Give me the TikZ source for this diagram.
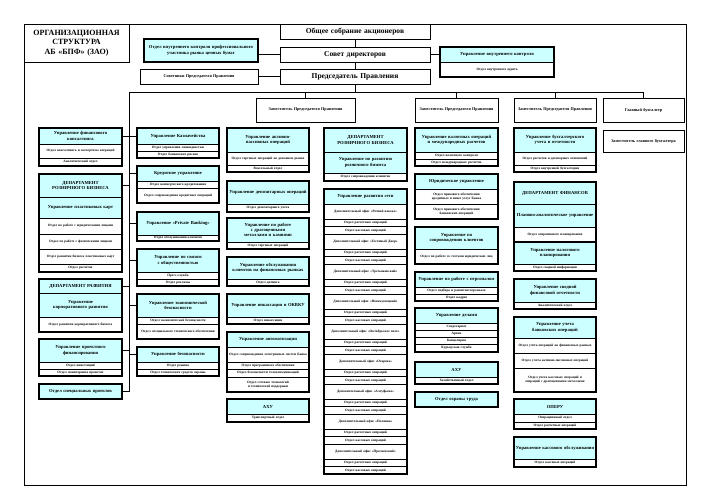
\documentclass[tikz,border=0pt]{standalone}
\usepackage{fontspec}
\setmainfont{Liberation Serif}
\definecolor{hdcyan}{HTML}{CCFFFF}
% columns (left/right edges):
\def\colAl{39}\def\colAr{122}
\def\colBl{137}\def\colBr{219}
\def\colCl{227}\def\colCr{309}
\def\colDl{324}\def\colDr{407}
\def\colEl{415}\def\colEr{498}
\def\colFl{514}\def\colFr{596}
\def\colGl{603}\def\colGr{684}
\newcommand{\orgcell}[7][rowcell]{%
  \pgfmathsetmacro{\orgw}{#5-#3}%
  \pgfmathsetmacro{\orgh}{#6-#4}%
  \pgfmathsetmacro{\orgt}{#5-#3-3}%
  \node[#1, minimum width=\orgw pt, minimum height=\orgh pt, text width=\orgt pt] (#2) at ({(#3+#5)/2},{(#4+#6)/2}) {#7};}
\newcommand{\orgframe}[2]{\draw[unitline] (#1.north west) rectangle (#2.south east);}
\newcommand{\netoffice}[3]{%
  \pgfmathsetmacro{\offa}{#2+15}%
  \pgfmathsetmacro{\offb}{#2+22.5}%
  \pgfmathsetmacro{\offc}{#2+30}%
  \orgcell{#1}{\colDl}{#2}{\colDr}{\offa}{Дополнительный офис #3}
  \orgcell{#1r}{\colDl}{\offa}{\colDr}{\offb}{Отдел расчетных операций}
  \orgcell{#1k}{\colDl}{\offb}{\colDr}{\offc}{Отдел кассовых операций}}
\tikzset{
  cellbase/.style={draw, line width=0.45pt, inner sep=0.3pt, outer sep=0pt, align=center},
  rowcell/.style={cellbase, fill=white, font=\bfseries\fontsize{3.4}{3.9}\selectfont},
  headcell/.style={cellbase, fill=hdcyan, font=\bfseries\fontsize{4.6}{5.3}\selectfont},
  depcell/.style={cellbase, fill=white, line width=0.9pt, font=\bfseries\fontsize{4.2}{5}\selectfont},
  topcell/.style={cellbase, fill=white, line width=1pt, font=\bfseries\fontsize{7.5}{9}\selectfont},
  titlecell/.style={cellbase, fill=white, line width=0.8pt, font=\bfseries\fontsize{8}{9.6}\selectfont},
  unitline/.style={line width=1.2pt},
  link/.style={line width=0.9pt},
}
\begin{document}
\begin{tikzpicture}[x=1pt,y=-1pt]
\useasboundingbox (0,0) rectangle (703,496);
% outline:
\draw[line width=1pt] (24,24) rectangle (686,485);
\orgcell[titlecell]{title}{24}{24}{129}{62}{ОРГАНИЗАЦИОННАЯ\\СТРУКТУРА\\АБ «БПФ» (ЗАО)}
% top:
\orgcell[topcell]{gm}{280}{24}{430}{39}{Общее собрание акционеров}
\orgcell[topcell]{board}{280}{47}{430}{62}{Совет директоров}
\orgcell[topcell]{chair}{280}{69}{430}{84}{Председатель Правления}
\orgcell[headcell]{ctrl}{144}{39}{258}{62}{Отдел внутреннего контроля профессионального участника рынка ценных бумаг}
\orgframe{ctrl}{ctrl}
\orgcell[depcell]{adv}{140}{69}{258}{84}{Советники Председателя Правления}
\orgcell[headcell]{audit}{440}{47}{554}{62}{Управление внутреннего контроля}
\orgcell{auditr}{440}{62}{554}{77}{Отдел внутреннего аудита}
\orgframe{audit}{auditr}
% deputies:
\orgcell[depcell]{dep1}{256}{98}{355}{122}{Заместитель Председателя Правления}
\orgcell[depcell]{dep2}{\colEl}{98}{\colEr}{122}{Заместитель Председателя Правления}
\orgcell[depcell]{dep3}{\colFl}{98}{\colFr}{122}{Заместитель Председателя Правления}
\orgcell[depcell]{chacc}{\colGl}{98}{\colGr}{122}{Главный бухгалтер}
\orgcell[depcell]{chacc2}{\colGl}{130}{\colGr}{152}{Заместитель главного бухгалтера}
% column A:
\orgcell[headcell]{A1}{\colAl}{128}{\colAr}{144}{Управление финансового консалтинга}
\orgcell{A1a}{\colAl}{144}{\colAr}{158}{Отдел консалтинга и экспертизы операций}
\orgcell{A1b}{\colAl}{158}{\colAr}{166}{Аналитический отдел}
\orgframe{A1}{A1b}
\orgcell[headcell]{A2}{\colAl}{174}{\colAr}{197}{ДЕПАРТАМЕНТ РОЗНИЧНОГО БИЗНЕСА}
\orgcell[headcell]{A2h}{\colAl}{197}{\colAr}{218}{Управление пластиковых карт}
\orgcell{A2a}{\colAl}{218}{\colAr}{234}{Отдел по работе с юридическими лицами}
\orgcell{A2b}{\colAl}{234}{\colAr}{249}{Отдел по работе с физическими лицами}
\orgcell{A2c}{\colAl}{249}{\colAr}{264}{Отдел развития бизнеса пластиковых карт}
\orgcell{A2d}{\colAl}{264}{\colAr}{272}{Отдел расчетов}
\orgframe{A2}{A2d}
\orgcell[headcell]{A3}{\colAl}{279}{\colAr}{293}{ДЕПАРТАМЕНТ РАЗВИТИЯ}
\orgcell[headcell]{A3h}{\colAl}{293}{\colAr}{317}{Управление корпоративного развития}
\orgcell{A3a}{\colAl}{317}{\colAr}{332}{Отдел развития корпоративного бизнеса}
\orgframe{A3}{A3a}
\orgcell[headcell]{A4}{\colAl}{339}{\colAr}{362}{Управление проектного финансирования}
\orgcell{A4a}{\colAl}{362}{\colAr}{369}{Отдел инвестиций}
\orgcell{A4b}{\colAl}{369}{\colAr}{376}{Отдел мониторинга проектов}
\orgframe{A4}{A4b}
\orgcell[headcell]{A5}{\colAl}{384}{\colAr}{399}{Отдел специальных проектов}
\orgframe{A5}{A5}
% column B:
\orgcell[headcell]{B1}{\colBl}{128}{\colBr}{144}{Управление Казначейства}
\orgcell{B1a}{\colBl}{144}{\colBr}{151}{Отдел управления ликвидностью}
\orgcell{B1b}{\colBl}{151}{\colBr}{158}{Отдел банковских рисков}
\orgframe{B1}{B1b}
\orgcell[headcell]{B2}{\colBl}{166}{\colBr}{181}{Кредитное управление}
\orgcell{B2a}{\colBl}{181}{\colBr}{188}{Отдел коммерческого кредитования}
\orgcell{B2b}{\colBl}{188}{\colBr}{203}{Отдел сопровождения кредитных операций}
\orgframe{B2}{B2b}
\orgcell[headcell]{B3}{\colBl}{212}{\colBr}{235}{Управление «Private Banking»}
\orgcell{B3a}{\colBl}{235}{\colBr}{241}{Отдел обслуживания клиентов}
\orgframe{B3}{B3a}
\orgcell[headcell]{B4}{\colBl}{249}{\colBr}{272}{Управление по связям с общественностью}
\orgcell{B4a}{\colBl}{272}{\colBr}{279}{Пресс-служба}
\orgcell{B4b}{\colBl}{279}{\colBr}{286}{Отдел рекламы}
\orgframe{B4}{B4b}
\orgcell[headcell]{B5}{\colBl}{294}{\colBr}{317}{Управление экономической безопасности}
\orgcell{B5a}{\colBl}{317}{\colBr}{324}{Отдел экономической безопасности}
\orgcell{B5b}{\colBl}{324}{\colBr}{339}{Отдел специального технического обеспечения}
\orgframe{B5}{B5b}
\orgcell[headcell]{B6}{\colBl}{347}{\colBr}{362}{Управление безопасности}
\orgcell{B6a}{\colBl}{362}{\colBr}{369}{Отдел режима}
\orgcell{B6b}{\colBl}{369}{\colBr}{376}{Отдел технических средств охраны}
\orgframe{B6}{B6b}
% column C:
\orgcell[headcell]{C1}{\colCl}{128}{\colCr}{152}{Управление активно-пассивных операций}
\orgcell{C1a}{\colCl}{152}{\colCr}{165}{Отдел торговых операций на денежном рынке}
\orgcell{C1b}{\colCl}{165}{\colCr}{172}{Вексельный отдел}
\orgframe{C1}{C1b}
\orgcell[headcell]{C2}{\colCl}{181}{\colCr}{204}{Управление депозитарных операций}
\orgcell{C2a}{\colCl}{204}{\colCr}{212}{Отдел депозитарного учета}
\orgframe{C2}{C2a}
\orgcell[headcell]{C3}{\colCl}{218}{\colCr}{242}{Управление по работе с драгоценными металлами и камнями}
\orgcell{C3a}{\colCl}{242}{\colCr}{249}{Отдел торговых операций}
\orgframe{C3}{C3a}
\orgcell[headcell]{C4}{\colCl}{257}{\colCr}{279}{Управление обслуживания клиентов на финансовых рынках}
\orgcell{C4a}{\colCl}{279}{\colCr}{286}{Отдел дилинга}
\orgframe{C4}{C4a}
\orgcell[headcell]{C5}{\colCl}{294}{\colCr}{317}{Управление инкассации и ОКВКУ}
\orgcell{C5a}{\colCl}{317}{\colCr}{324}{Отдел инкассации}
\orgframe{C5}{C5a}
\orgcell[headcell]{C6}{\colCl}{332}{\colCr}{347}{Управление автоматизации}
\orgcell{C6a}{\colCl}{347}{\colCr}{362}{Отдел сопровождения электронных систем Банка}
\orgcell{C6b}{\colCl}{362}{\colCr}{369}{Отдел программного обеспечения}
\orgcell{C6c}{\colCl}{369}{\colCr}{377}{Отдел безопасности телекоммуникаций}
\orgcell{C6d}{\colCl}{377}{\colCr}{392}{Отдел сетевых технологий и технической поддержки}
\orgframe{C6}{C6d}
\orgcell[headcell]{C7}{\colCl}{399}{\colCr}{414}{АХУ}
\orgcell{C7a}{\colCl}{414}{\colCr}{422}{Транспортный отдел}
\orgframe{C7}{C7a}
% column D:
\orgcell[headcell]{D1}{\colDl}{128}{\colDr}{152}{ДЕПАРТАМЕНТ РОЗНИЧНОГО БИЗНЕСА}
\orgcell[headcell]{D1h}{\colDl}{152}{\colDr}{173}{Управление по развитию розничного бизнеса}
\orgcell{D1a}{\colDl}{173}{\colDr}{181}{Отдел сопровождения клиентов}
\orgframe{D1}{D1a}
\orgcell[headcell]{D2}{\colDl}{189}{\colDr}{204}{Управление развития сети}
\netoffice{off1}{204}{«Речной вокзал»}
\netoffice{off2}{234}{«Гостиный Двор»}
\netoffice{off3}{264}{«Третьяковский»}
\netoffice{off4}{294}{«Новокузнецкий»}
\netoffice{off5}{324}{«Октябрьское поле»}
\netoffice{off6}{354}{«Огарева»}
\netoffice{off7}{384}{«Алтуфьево»}
\netoffice{off8}{414}{«Полянка»}
\netoffice{off9}{444}{«Пресненский»}
\orgframe{D2}{off9k}
% column E:
\orgcell[headcell]{E1}{\colEl}{128}{\colEr}{152}{Управление валютных операций и международных расчетов}
\orgcell{E1a}{\colEl}{152}{\colEr}{159}{Отдел валютного контроля}
\orgcell{E1b}{\colEl}{159}{\colEr}{166}{Отдел международных расчетов}
\orgframe{E1}{E1b}
\orgcell[headcell]{E2}{\colEl}{174}{\colEr}{189}{Юридическое управление}
\orgcell{E2a}{\colEl}{189}{\colEr}{204}{Отдел правового обеспечения кредитных и иных услуг Банка}
\orgcell{E2b}{\colEl}{204}{\colEr}{219}{Отдел правового обеспечения банковских операций}
\orgframe{E2}{E2b}
\orgcell[headcell]{E3}{\colEl}{227}{\colEr}{249}{Управление по сопровождению клиентов}
\orgcell{E3a}{\colEl}{249}{\colEr}{264}{Отдел по работе со счетами юридических лиц}
\orgframe{E3}{E3a}
\orgcell[headcell]{E4}{\colEl}{272}{\colEr}{287}{Управление по работе с персоналом}
\orgcell{E4a}{\colEl}{287}{\colEr}{294}{Отдел подбора и развития персонала}
\orgcell{E4b}{\colEl}{294}{\colEr}{301}{Отдел кадров}
\orgframe{E4}{E4b}
\orgcell[headcell]{E5}{\colEl}{308}{\colEr}{323}{Управление делами}
\orgcell{E5a}{\colEl}{323}{\colEr}{330}{Секретариат}
\orgcell{E5b}{\colEl}{330}{\colEr}{337}{Архив}
\orgcell{E5c}{\colEl}{337}{\colEr}{344}{Канцелярия}
\orgcell{E5d}{\colEl}{344}{\colEr}{352}{Курьерская служба}
\orgframe{E5}{E5d}
\orgcell[headcell]{E6}{\colEl}{362}{\colEr}{377}{АХУ}
\orgcell{E6a}{\colEl}{377}{\colEr}{384}{Хозяйственный отдел}
\orgframe{E6}{E6a}
\orgcell[headcell]{E7}{\colEl}{392}{\colEr}{407}{Отдел охраны труда}
\orgframe{E7}{E7}
% column F:
\orgcell[headcell]{F1}{\colFl}{128}{\colFr}{152}{Управление бухгалтерского учета и отчетности}
\orgcell{F1a}{\colFl}{152}{\colFr}{165}{Отдел расчетов и договорных отношений}
\orgcell{F1b}{\colFl}{165}{\colFr}{172}{Отдел внутренней бухгалтерии}
\orgframe{F1}{F1b}
\orgcell[headcell]{F2}{\colFl}{182}{\colFr}{204}{ДЕПАРТАМЕНТ ФИНАНСОВ}
\orgcell[headcell]{F2h}{\colFl}{204}{\colFr}{227}{Планово-аналитическое управление}
\orgcell{F2a}{\colFl}{227}{\colFr}{242}{Отдел оперативного планирования}
\orgframe{F2}{F2a}
\orgcell[headcell]{F3}{\colFl}{242}{\colFr}{264}{Управление налогового планирования}
\orgcell{F3a}{\colFl}{264}{\colFr}{271}{Отдел сводной информации}
\orgframe{F3}{F3a}
\orgcell[headcell]{F4}{\colFl}{279}{\colFr}{302}{Управление сводной финансовой отчетности}
\orgcell{F4a}{\colFl}{302}{\colFr}{309}{Аналитический отдел}
\orgframe{F4}{F4a}
\orgcell[headcell]{F5}{\colFl}{317}{\colFr}{338}{Управление учета банковских операций}
\orgcell{F5a}{\colFl}{338}{\colFr}{353}{Отдел учета операций на финансовых рынках}
\orgcell{F5b}{\colFl}{353}{\colFr}{368}{Отдел учета активно-пассивных операций}
\orgcell{F5c}{\colFl}{368}{\colFr}{392}{Отдел учета кассовых операций и операций с драгоценными металлами}
\orgframe{F5}{F5c}
\orgcell[headcell]{F6}{\colFl}{399}{\colFr}{414}{ОПЕРУ}
\orgcell{F6a}{\colFl}{414}{\colFr}{422}{Операционный отдел}
\orgcell{F6b}{\colFl}{422}{\colFr}{429}{Отдел расчетных операций}
\orgframe{F6}{F6b}
\orgcell[headcell]{F7}{\colFl}{437}{\colFr}{459}{Управление кассового обслуживания}
\orgcell{F7a}{\colFl}{459}{\colFr}{467}{Отдел кассовых операций}
\orgframe{F7}{F7a}
% links:
\draw[link] (gm) -- (board) -- (chair);
\draw[link] (board.west) -- (board.west -| ctrl.east);
\draw[link] (board.east) -- (board.east -| audit.west);
\draw[link] (chair.west) -- (chair.west -| adv.east);
\coordinate (spine) at (129,92);
\draw[link] (chair.south) -- (chair.south |- spine);
\draw[link] (A5.east) -| (spine) -- (chacc.north |- spine) -- (chacc.north);
\foreach \d in {dep1,dep2,dep3}
  \draw[link] (\d.north) -- (\d.north |- spine);
\foreach \u in {A1,A2,A3,A4}
  \draw[link] (\u.east) -- (\u.east -| spine);
\foreach \u in {B1,B2,B3,B4,B5,B6}
  \draw[link] (\u.west) -- (\u.west -| spine);
\end{tikzpicture}
\end{document}
